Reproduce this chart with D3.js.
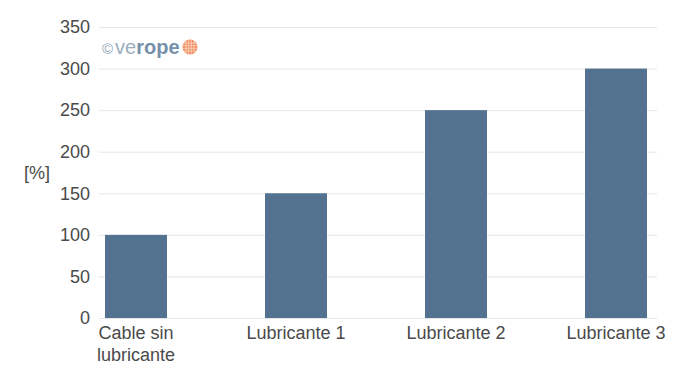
<!DOCTYPE html>
<html>
<head>
<meta charset="utf-8">
<script src="https://cdn.jsdelivr.net/npm/d3@7"></script>
<style>
  body { margin: 0; background: #fff; }
  svg { display: block; font-family: "Liberation Sans", Arial, sans-serif; }
</style>
</head>
<body>
<svg id="chart" width="696" height="377"></svg>
<script>
// chart data
const categories = ["Cable sin\nlubricante", "Lubricante 1", "Lubricante 2", "Lubricante 3"];
const values = [100, 150, 250, 300];
const yTicks = [0, 50, 100, 150, 200, 250, 300, 350];

const svg = d3.select("#chart");
const textColor = "#4a4a4a";

const y = d3.scaleLinear().domain([0, 350]).range([318, 27]);
// bands spread across the full width, bars are ~62px wide
const x = d3.scaleBand().domain(categories).range([56, 696])
    .paddingInner(0.6125).paddingOuter(0.30625);

// grid lines
svg.append("g")
   .selectAll("line")
   .data(yTicks)
   .join("line")
   .attr("x1", 99).attr("x2", 657)
   .attr("y1", d => y(d) + 0.5).attr("y2", d => y(d) + 0.5)
   .attr("stroke", "#e6e6e6")
   .attr("stroke-width", 1);

// y tick labels
svg.append("g")
   .selectAll("text")
   .data(yTicks)
   .join("text")
   .attr("x", 90)
   .attr("y", d => y(d))
   .attr("dy", "0.35em")
   .attr("text-anchor", "end")
   .style("font-size", "18px")
   .style("fill", textColor)
   .text(d => d);

// axis title
svg.append("text")
   .attr("x", 37).attr("y", 173)
   .attr("text-anchor", "middle")
   .attr("dy", "0.35em")
   .style("font-size", "18px")
   .style("fill", textColor)
   .text("[%]");

// bars
svg.append("g")
   .selectAll("rect")
   .data(values)
   .join("rect")
   .attr("x", (d, i) => x(categories[i]))
   .attr("y", d => y(d))
   .attr("width", x.bandwidth())
   .attr("height", d => y(0) - y(d))
   .attr("fill", "#52728f");

// category labels (may wrap onto two lines)
const catLabels = svg.append("g")
   .selectAll("text")
   .data(categories)
   .join("text")
   .attr("text-anchor", "middle")
   .style("font-size", "18px")
   .style("fill", textColor);
catLabels.each(function(d) {
    const t = d3.select(this);
    const cx = x(d) + x.bandwidth() / 2;
    d.split("\n").forEach((line, k) => {
        t.append("tspan").attr("x", cx).attr("y", 339 + k * 22).text(line);
    });
});

// watermark
const wm = svg.append("g").attr("transform", "translate(102,47)");
const wmText = wm.append("text")
   .attr("x", 0).attr("y", 0)
   .attr("dy", "0.35em")
   .style("font-size", "20px");
wmText.append("tspan").style("fill", "#8ea3b8").style("font-size", "15px").text("©");
wmText.append("tspan").attr("dx", 2).style("fill", "#9aadc0").text("ve");
wmText.append("tspan").style("fill", "#7690aa").style("font-weight", "bold").text("rope");
const gx = 88;
wm.append("circle").attr("cx", gx).attr("cy", 0).attr("r", 7.5)
   .attr("fill", "#f08a5a");
[-4, -1.3, 1.3, 4].forEach(o => {
    wm.append("line").attr("x1", gx - 7).attr("x2", gx + 7).attr("y1", o).attr("y2", o)
      .attr("stroke", "#fde3d6").attr("stroke-width", 0.7);
    wm.append("line").attr("x1", gx + o).attr("x2", gx + o).attr("y1", -7).attr("y2", 7)
      .attr("stroke", "#fde3d6").attr("stroke-width", 0.7);
});
</script>
</body>
</html>
